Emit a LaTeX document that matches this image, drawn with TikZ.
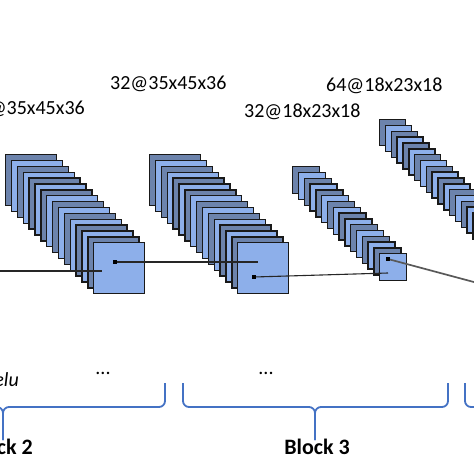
\documentclass[tikz,border=0pt]{standalone}
\usepackage{fontspec}
\setmainfont{Carlito}
\definecolor{mapdark}{HTML}{6C83AC}
\definecolor{maplight}{HTML}{8DAFEA}
\definecolor{braceblue}{HTML}{4472C4}

\begin{document}
\begin{tikzpicture}[x=1pt,y=-1pt,
	fmap/.style={ draw=black!90, line width=1.4pt, inner sep=0pt, minimum size=#1, anchor=north west },
	dot/.style={ fill=black, inner sep=0pt, minimum size=3.5pt },
	conn/.style={ draw=black!85, line width=1.1pt },
	conng/.style={ draw=black!65, line width=1.7pt },
	dimlabel/.style={ inner sep=0pt, font=\fontsize{20}{24}\selectfont },
	blocklabel/.style={ inner sep=0pt, font=\fontsize{22}{26}\selectfont\bfseries },
	blockbrace/.style={ draw=braceblue, line width=1.8pt, rounded corners=6pt }
]
\useasboundingbox (0,0) rectangle (474,474);
\clip (0,0) rectangle (474,474);

% feature map stacks
\foreach \i in {0,...,15} {
	\ifodd\i \def\col{maplight}\else\def\col{mapdark}\fi
	\node[fmap=51pt, fill=\col] (a\i) at ({5+5.87*\i},{154+5.87*\i}) {};
}
\foreach \i in {0,...,15} {
	\ifodd\i \def\col{maplight}\else\def\col{mapdark}\fi
	\node[fmap=51pt, fill=\col] (b\i) at ({149+5.87*\i},{154+5.87*\i}) {};
}
\foreach \i in {0,...,15} {
	\ifodd\i \def\col{maplight}\else\def\col{mapdark}\fi
	\node[fmap=27pt, fill=\col] (c\i) at ({292+5.8*\i},{166+5.8*\i}) {};
}
\foreach \i in {0,...,23} {
	\ifodd\i \def\col{maplight}\else\def\col{mapdark}\fi
	\node[fmap=26pt, fill=\col] (d\i) at ({379+5.83*\i},{119+5.83*\i}) {};
}

% connections
\coordinate (src) at (-5,271);
\coordinate (in1) at (102,271);
\node[dot] (p1) at (115,262) {};
\coordinate (in2) at (258,262);
\node[dot] (p2) at (254,277) {};
\coordinate (in3) at (388,273);
\node[dot] (p3) at (388,259) {};
\coordinate (out3) at (485,285);
\draw[conn] (src) -- (in1);
\draw[conn] (p1) -- (in2);
\draw[conn] (p2) -- (in3);
\draw[conng] (p3) -- (out3);

% labels
\node[dimlabel, anchor=base east] (l1) at (85,114) {32@35x45x36};
\node[dimlabel, anchor=base west] (l2) at (110,89) {32@35x45x36};
\node[dimlabel, anchor=base west] (l3) at (244,117) {32@18x23x18};
\node[dimlabel, anchor=base west] (l4) at (326,91) {64@18x23x18};
\node[dimlabel, anchor=base east] (act) at (19,386) {\itshape elu};
\node[dimlabel, anchor=base] (dots1) at (103,374) {...};
\node[dimlabel, anchor=base] (dots2) at (266,374) {...};

% block braces
\draw[blockbrace] (165,383) -- (165,407) -- (3,407) -- (3,440);
\draw[blockbrace] (-159,383) -- (-159,407) -- (3,407) -- (3,440);
\draw[blockbrace] (183,383) -- (183,407) -- (315,407) -- (315,440);
\draw[blockbrace] (448,383) -- (448,407) -- (315,407) -- (315,440);
\draw[blockbrace] (465,383) -- (465,407) -- (600,407);
\node[blocklabel, anchor=base east] (blk2) at (33,454) {Block 2};
\node[blocklabel, anchor=base] (blk3) at (317,454) {Block 3};

\end{tikzpicture}
\end{document}
